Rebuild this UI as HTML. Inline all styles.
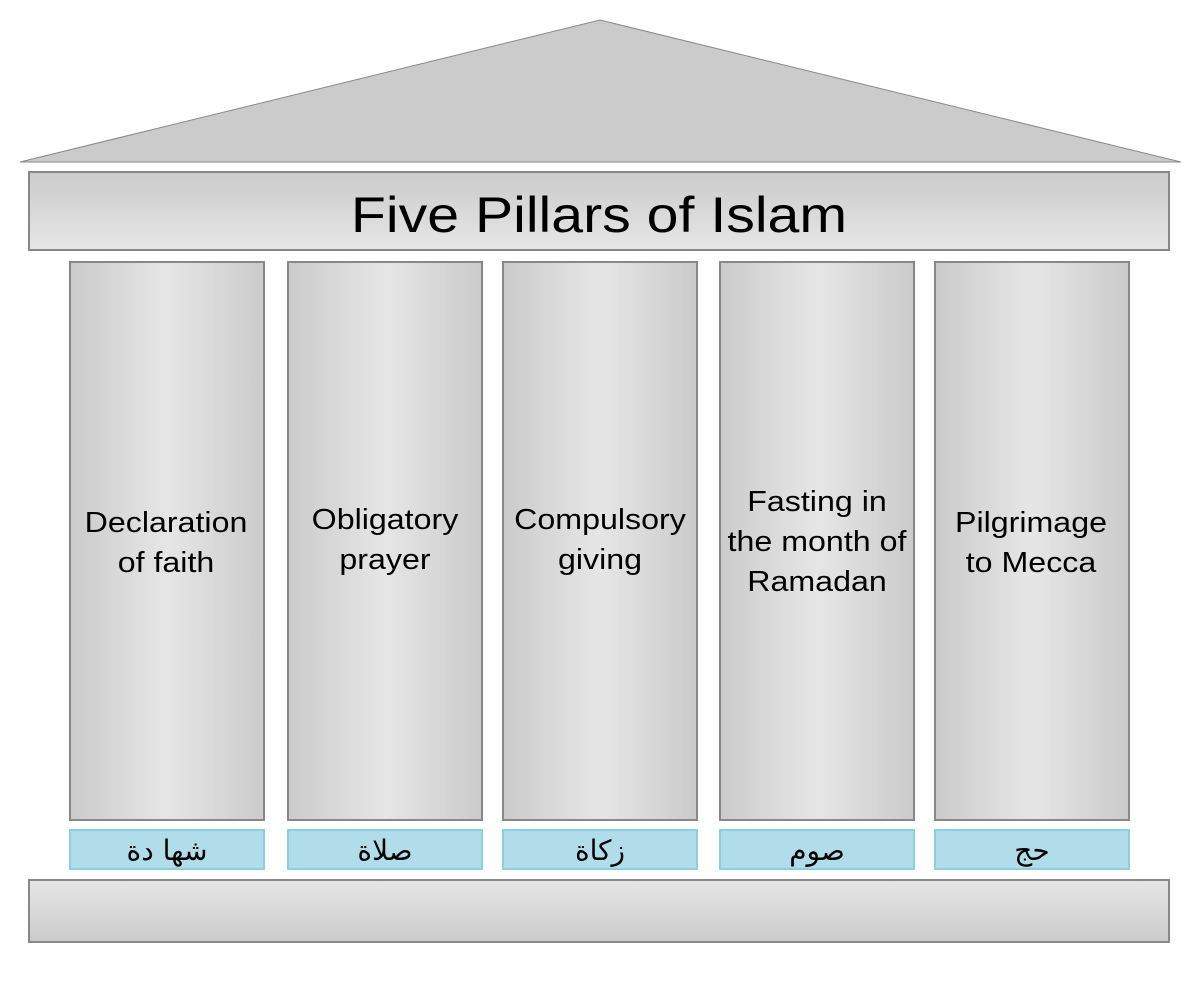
<!DOCTYPE html>
<html><head><meta charset="utf-8"><style>body{margin:0;background:#fff}</style></head>
<body>
<svg width="1200" height="980" xmlns="http://www.w3.org/2000/svg" font-family="'Liberation Sans', 'DejaVu Sans', sans-serif">
<defs>
<linearGradient id="hv" x1="0" y1="0" x2="0" y2="1"><stop offset="0" stop-color="#cbcbcb"/><stop offset="1" stop-color="#e6e6e6"/></linearGradient>
<linearGradient id="bv" x1="0" y1="0" x2="0" y2="1"><stop offset="0" stop-color="#e6e6e6"/><stop offset="1" stop-color="#cbcbcb"/></linearGradient>
<linearGradient id="ph" x1="0" y1="0" x2="1" y2="0"><stop offset="0" stop-color="#cbcbcb"/><stop offset="0.5" stop-color="#e6e6e6"/><stop offset="1" stop-color="#cbcbcb"/></linearGradient>
</defs>
<polygon points="20,162 600,20 1181,162" fill="#cbcbcb" stroke="#888" stroke-width="1"/>
<rect x="29" y="172" width="1140" height="78" fill="url(#hv)" stroke="#888" stroke-width="2"/>
<text x="599" y="232" font-size="50" text-anchor="middle" fill="#000" transform="translate(599,0) scale(1.145,1) translate(-599,0)">Five Pillars of Islam</text>
<g stroke="#888" stroke-width="2" fill="url(#ph)">
<rect x="70" y="262" width="194" height="558"/>
<rect x="288" y="262" width="194" height="558"/>
<rect x="503" y="262" width="194" height="558"/>
<rect x="720" y="262" width="194" height="558"/>
<rect x="935" y="262" width="194" height="558"/>
</g>
<g stroke="#8ccfe0" stroke-width="2" fill="#b0dde9">
<rect x="70" y="830" width="194" height="39"/>
<rect x="288" y="830" width="194" height="39"/>
<rect x="503" y="830" width="194" height="39"/>
<rect x="720" y="830" width="194" height="39"/>
<rect x="935" y="830" width="194" height="39"/>
</g>
<rect x="29" y="880" width="1140" height="62" fill="url(#bv)" stroke="#888" stroke-width="2"/>
<g font-size="29" text-anchor="middle" fill="#000">
<g transform="translate(166,0) scale(1.11,1) translate(-166,0)"><text x="166" y="532">Declaration</text><text x="166" y="572">of faith</text></g>
<g transform="translate(385,0) scale(1.11,1) translate(-385,0)"><text x="385" y="529">Obligatory</text><text x="385" y="569">prayer</text></g>
<g transform="translate(600,0) scale(1.11,1) translate(-600,0)"><text x="600" y="529">Compulsory</text><text x="600" y="569">giving</text></g>
<g transform="translate(817,0) scale(1.11,1) translate(-817,0)"><text x="817" y="511">Fasting in</text><text x="817" y="551">the month of</text><text x="817" y="591">Ramadan</text></g>
<g transform="translate(1031,0) scale(1.11,1) translate(-1031,0)"><text x="1031" y="532">Pilgrimage</text><text x="1031" y="572">to Mecca</text></g>
</g>
<g font-size="28" text-anchor="middle" fill="#000" font-family="'DejaVu Sans', sans-serif" direction="rtl">
<text x="167" y="860">شها دة</text>
<text x="385" y="860">صلاة</text>
<text x="600" y="860">زكاة</text>
<text x="817" y="860">صوم</text>
<text x="1032" y="860">حج</text>
</g>
</svg>
</body></html>
